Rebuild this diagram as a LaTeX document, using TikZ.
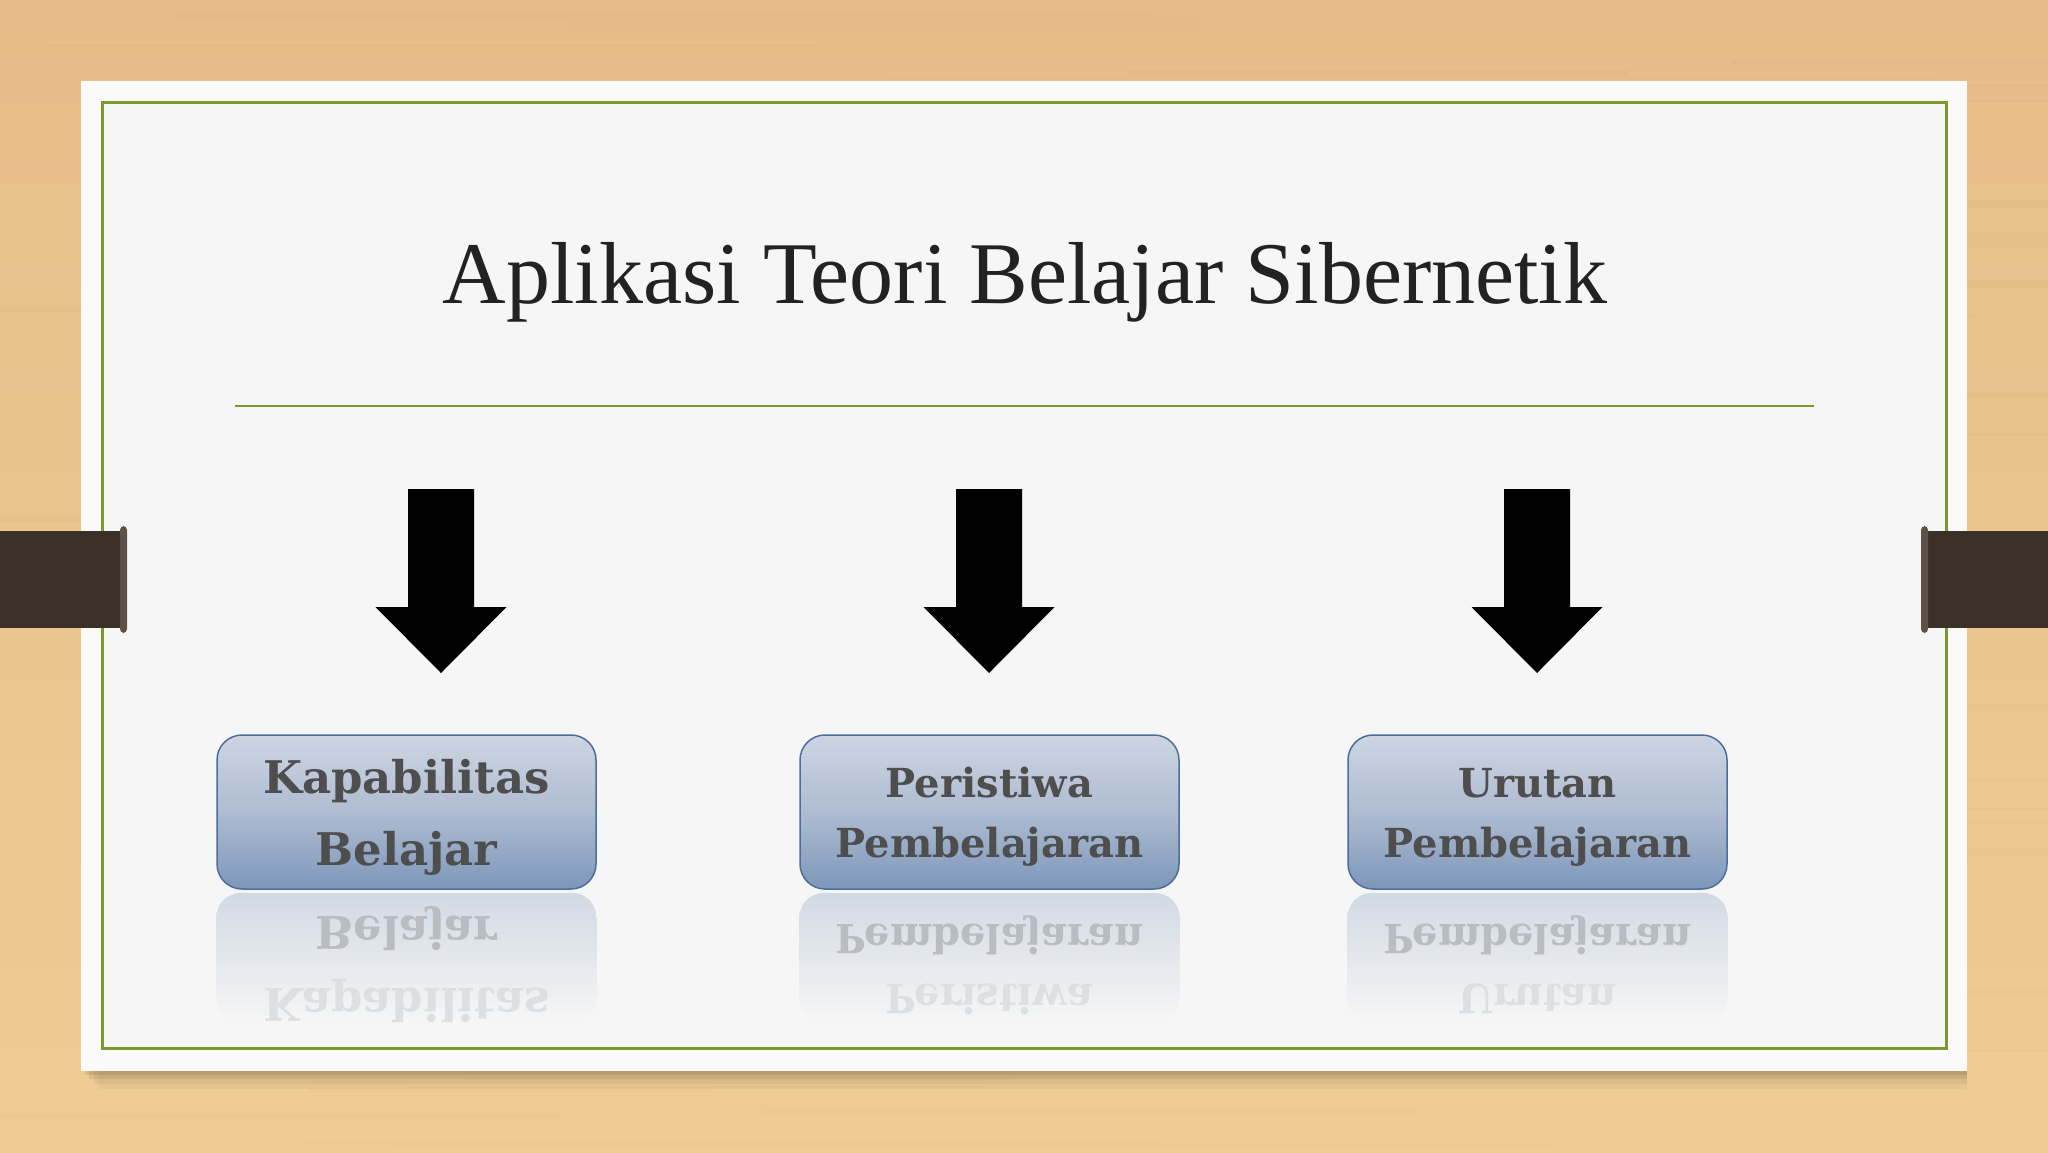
\documentclass[tikz,border=0pt]{standalone}
\usepackage{fontspec}
\setmainfont{Liberation Serif}
\newfontfamily\boxfont{DejaVu Serif}
\usetikzlibrary{calc,positioning}
\usepackage{xcolor}

\definecolor{woodtop}{HTML}{E8BC88}
\definecolor{woodbot}{HTML}{EECC93}
\definecolor{woodgrain}{HTML}{C9965E}
\definecolor{cardwhite}{HTML}{FAFAFA}
\definecolor{cardin}{HTML}{F6F6F6}
\definecolor{rulegreen}{HTML}{7A9A2C}
\definecolor{tabbrown}{HTML}{3B3128}
\definecolor{tabedge}{HTML}{5E5042}
\definecolor{boxtop}{HTML}{CDD5E2}
\definecolor{boxmid}{HTML}{AEBCD1}
\definecolor{boxbot}{HTML}{7D97BA}
\definecolor{boxline}{HTML}{4C6E9C}
\definecolor{boxtext}{HTML}{4E4E4E}
\definecolor{reflnear}{HTML}{B9BDC2}
\definecolor{reflfar}{HTML}{DDE0E3}
\definecolor{titletext}{HTML}{222222}

\tikzset{
  topicbox/.style={draw=boxline, line width=0.75pt, rounded corners=12.5pt,
    top color=boxtop, bottom color=boxbot, middle color=boxmid,
    minimum width=189.5pt, minimum height=77pt, inner sep=0pt},
  boxlabel/.style={align=center, inner sep=0pt, text=boxtext},
  reflbox/.style={rounded corners=12.5pt, top color=boxbot!30!cardin, bottom color=cardin},
  refltext/.style={yscale=-1, align=center, inner sep=0pt},
  bigtext/.style={font=\boxfont\bfseries\fontsize{22.5}{36}\selectfont},
  smalltext/.style={font=\boxfont\bfseries\fontsize{20}{30}\selectfont},
  downarrow/.style={fill=black},
  tab/.style={fill=tabbrown},
  knob/.style={fill=tabedge, rounded corners=2pt}
}

\begin{document}
\begin{tikzpicture}[x=0.5pt,y=-0.5pt]
\useasboundingbox (0,0) rectangle (2048,1152);
\shade[top color=woodtop, bottom color=woodbot] (0,0) rectangle (2048,1152);
\pgfmathsetseed{11}
\foreach \i in {1,...,70}{
  \pgfmathsetmacro\gy{random(0,1152)}
  \pgfmathsetmacro\gx{random(-200,1800)}
  \pgfmathsetmacro\gl{random(300,1200)}
  \pgfmathsetmacro\go{0.03+0.05*rnd}
  \fill[woodgrain,opacity=\go] (\gx,\gy) rectangle ({\gx+\gl},{\gy+random(2,7)});
}

% card and shadow
\foreach \d/\o in {18/0.03,13/0.05,8/0.07,4/0.09}
  \fill[black,opacity=\o] (81+\d,81+\d) rectangle (1967,1071+\d);
\fill[cardwhite] (81,81) rectangle (1967,1071);
\filldraw[fill=cardin, draw=rulegreen, line width=1.5pt] (102,102) rectangle (1946,1048);

% side tabs
\fill[tab] (0,531) rectangle (125,628);
\fill[knob] (120,526) rectangle (127,633);
\fill[tab] (1923,531) rectangle (2048,628);
\fill[knob] (1921,526) rectangle (1928,633);

\node[anchor=base, text=titletext, font=\fontsize{44}{50}\selectfont] (title) at (1025,303) {Aplikasi Teori Belajar Sibernetik};
\coordinate (ruleL) at (235,406);
\coordinate (ruleR) at (1814,406);
\draw[rulegreen, line width=1pt] (ruleL) -- (ruleR);

\foreach \ax in {441,989,1537}
  \fill[downarrow] ({\ax-33},489) -- ({\ax+33},489) -- ({\ax+33},607) -- ({\ax+65.5},607)
    -- (\ax,673) -- ({\ax-65.5},607) -- ({\ax-33},607) -- cycle;

\node[topicbox] (kap) at (406.5,812) {};
\node[topicbox] (per) at (989.5,812) {};
\node[topicbox] (uru) at (1537.5,812) {};
\node[boxlabel, bigtext] (kapT) at ($(kap.center)+(0,5)$) {Kapabilitas\\Belajar};
\node[boxlabel, smalltext] (perT) at ($(per.center)+(0,5)$) {Peristiwa\\Pembelajaran};
\node[boxlabel, smalltext] (uruT) at ($(uru.center)+(0,5)$) {Urutan\\Pembelajaran};

% reflections
\foreach \b in {kap,per,uru}
  \shade[reflbox] ($(\b.south west)+(0,3)$) rectangle ($(\b.south east)+(0,132)$);
\node[refltext, bigtext] (kapR) at ($(kap.center)+(0,153)$) {\textcolor{reflfar}{Kapabilitas}\\\textcolor{reflnear}{Belajar}};
\node[refltext, smalltext] (perR) at ($(per.center)+(0,153)$) {\textcolor{reflfar}{Peristiwa}\\\textcolor{reflnear}{Pembelajaran}};
\node[refltext, smalltext] (uruR) at ($(uru.center)+(0,153)$) {\textcolor{reflfar}{Urutan}\\\textcolor{reflnear}{Pembelajaran}};
\end{tikzpicture}
\end{document}
